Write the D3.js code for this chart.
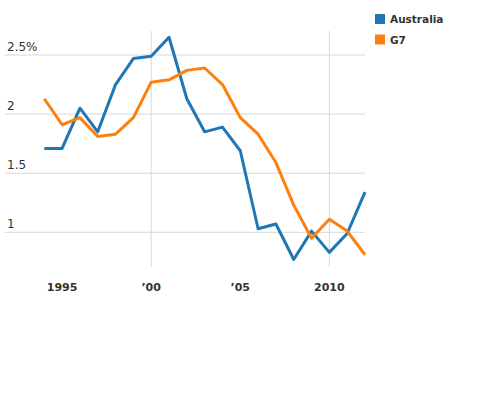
<!DOCTYPE html>
<html>
<head>
<meta charset="utf-8">
<script src="https://cdn.jsdelivr.net/npm/d3@7"></script>
<style>
  body { margin: 0; background: #fff; }
  svg { font-family: "DejaVu Sans", sans-serif; }
</style>
</head>
<body>
<div id="chart"></div>
<script>
var years = d3.range(1994, 2013);
var australia = [1.71, 1.71, 2.05, 1.85, 2.25, 2.47, 2.49, 2.65, 2.13, 1.85, 1.89, 1.69,
                 1.03, 1.07, 0.77, 1.01, 0.83, 0.99, 1.34];
var g7 = [2.13, 1.91, 1.97, 1.81, 1.83, 1.97, 2.27, 2.29, 2.37, 2.39, 2.25, 1.97,
          1.83, 1.59, 1.23, 0.95, 1.11, 1.01, 0.81];
var yTicks = [1, 1.5, 2, 2.5];
var xTicks = [1995, 2000, 2005, 2010];
var xTickLabels = ["1995", "\u201900", "\u201905", "2010"];
var xGrid = [2000, 2010];
var seriesNames = ["Australia", "G7"];
var colors = ["#1f77b4", "#ff7f0e"];

var width = 480, height = 400;

var svg = d3.select("#chart").append("svg")
    .attr("width", width).attr("height", height);

// 1994 -> 44.3, 2012 -> 365
var x = d3.scaleLinear().domain([1994, 2012]).range([44.3, 365]);
var y = d3.scaleLinear().domain([1, 2.5]).range([232.3, 55]);

var plotTop = 31, plotBottom = 267, plotLeft = 5, plotRight = 365;

// horizontal grid
svg.append("g").selectAll("line").data(yTicks).enter().append("line")
    .attr("x1", plotLeft).attr("x2", plotRight)
    .attr("y1", function(d){ return y(d); })
    .attr("y2", function(d){ return y(d); })
    .attr("stroke", "#d8d8d8").attr("stroke-width", 1);

// vertical grid
svg.append("g").selectAll("line").data(xGrid).enter().append("line")
    .attr("x1", function(d){ return x(d); })
    .attr("x2", function(d){ return x(d); })
    .attr("y1", plotTop).attr("y2", plotBottom)
    .attr("stroke", "#d8d8d8").attr("stroke-width", 1);

// y labels
svg.append("g").selectAll("text").data(yTicks).enter().append("text")
    .attr("x", 7)
    .attr("y", function(d){ return y(d) - 4.5; })
    .attr("font-size", 12)
    .attr("fill", "#333")
    .text(function(d, i){ return i === yTicks.length - 1 ? d + "%" : d; });

// x labels
svg.append("g").selectAll("text").data(xTicks).enter().append("text")
    .attr("x", function(d){ return x(d); })
    .attr("y", 291)
    .attr("text-anchor", "middle")
    .attr("font-size", 11)
    .attr("font-weight", "bold")
    .attr("fill", "#333")
    .text(function(d, i){ return xTickLabels[i]; });

var line = d3.line()
    .x(function(d){ return x(d[0]); })
    .y(function(d){ return y(d[1]); });

[australia, g7].forEach(function(vals, i){
    svg.append("path")
        .datum(years.map(function(yr, j){ return [yr, vals[j]]; }))
        .attr("fill", "none")
        .attr("stroke", colors[i])
        .attr("stroke-width", 3)
        .attr("stroke-linejoin", "round")
        .attr("d", line);
});

// legend
var legend = svg.append("g").selectAll("g").data(seriesNames).enter().append("g")
    .attr("transform", function(d, i){ return "translate(375," + (14 + i * 20.5) + ")"; });
legend.append("rect")
    .attr("width", 10).attr("height", 10)
    .attr("fill", function(d, i){ return colors[i]; });
legend.append("text")
    .attr("x", 15).attr("y", 9)
    .attr("font-size", 10.5)
    .attr("font-weight", "bold")
    .attr("fill", "#333")
    .text(function(d){ return d; });
</script>
</body>
</html>
